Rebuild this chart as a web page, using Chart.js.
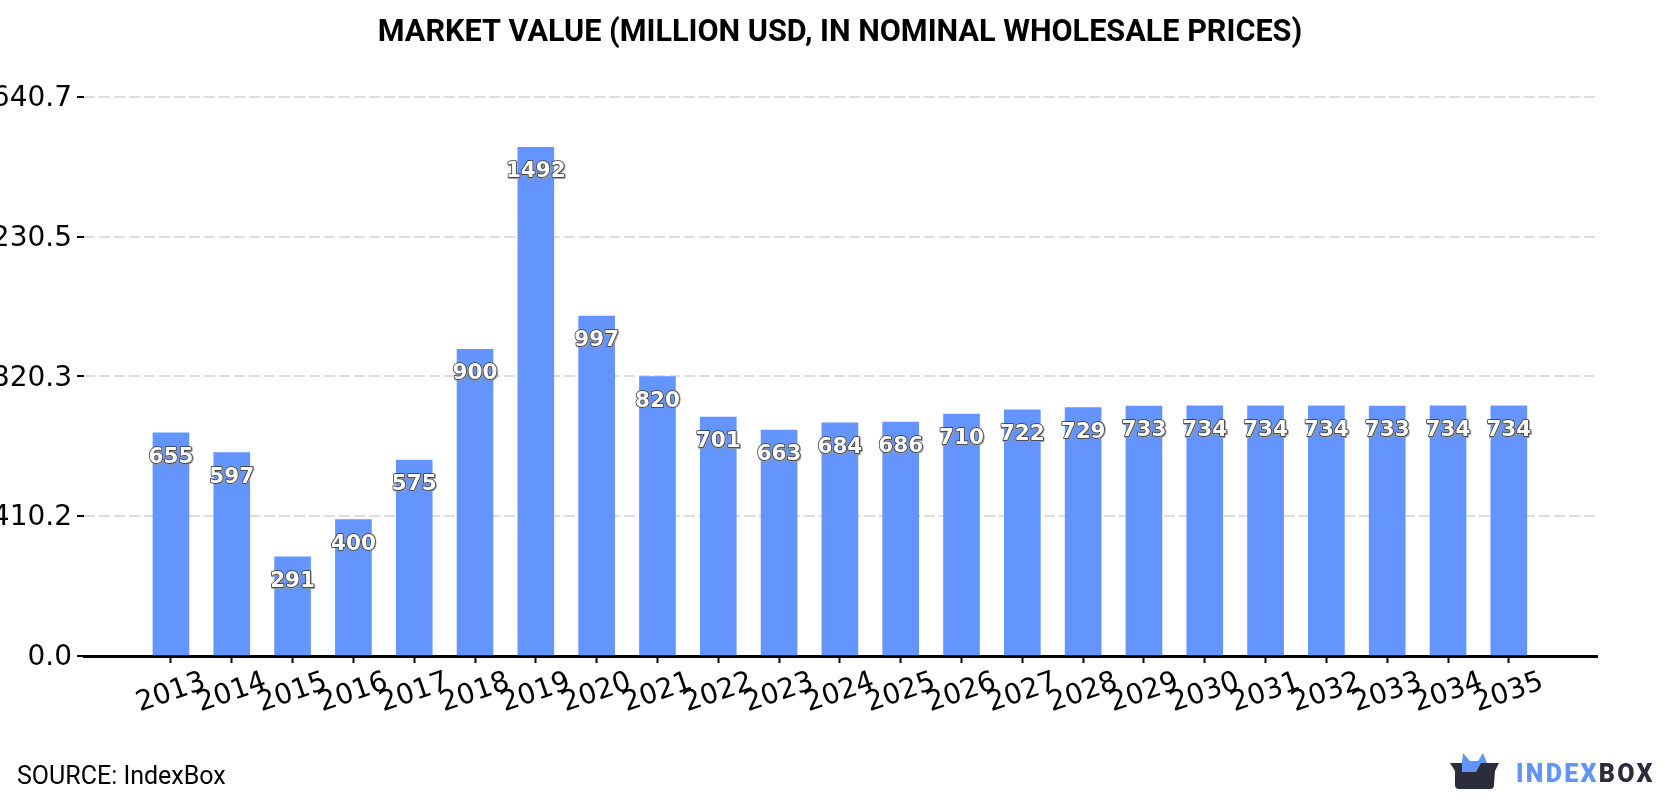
<!DOCTYPE html>
<html>
<head>
<meta charset="utf-8">
<title>Market value</title>
<script src="https://cdn.jsdelivr.net/npm/chart.js@4"></script>
<style>
  html, body { margin: 0; padding: 0; background: #fff; }
  #wrap { position: relative; width: 1680px; height: 800px; overflow: hidden; }
  #source { position: absolute; left: 17px; top: 761px; font: 25px Roboto, sans-serif; color: #000; white-space: nowrap; }
  #logo { position: absolute; left: 1448px; top: 750px; filter: blur(0.4px); }
  #brand { position: absolute; left: 1516px; top: 759px; font: 900 25px Roboto, sans-serif; letter-spacing: 2.3px; white-space: nowrap; color: #2b2d3a; filter: blur(0.4px); }
  #brand span { color: #6194fc; }
</style>
</head>
<body>
<div id="wrap">
  <canvas id="chart" width="1680" height="800"></canvas>
  <div id="source">SOURCE: IndexBox</div>
  <svg id="logo" width="52" height="42" viewBox="0 0 52 42">
    <path d="M14 13 L15 3 L22 11 L30 11 L35 3 L39 13 L33 22 L14 22 Z" fill="#6194fc"/>
    <path d="M2 13 L14 13 L14 22 L28 22 L33 13 L51 13 L47 21 L46 35 Q46 39 42 39 L11 39 Q7 39 7 35 L7 21 Z" fill="#2b2d3a"/>
  </svg>
  <div id="brand"><span>INDEX</span>BOX</div>
</div>
<script>
const years = [2013, 2014, 2015, 2016, 2017, 2018, 2019, 2020, 2021, 2022, 2023, 2024,
               2025, 2026, 2027, 2028, 2029, 2030, 2031, 2032, 2033, 2034, 2035];
const marketValue = [655, 597, 291, 400, 575, 900, 1492, 997, 820, 701, 663, 684,
                     686, 710, 722, 729, 733, 734, 734, 734, 733, 734, 734];
const valueTicks = [0, 410.2, 820.3, 1230.5, 1640.7];
const chartTitle = 'MARKET VALUE (MILLION USD, IN NOMINAL WHOLESALE PRICES)';

// The heading is centred on the whole canvas, not just the padded layout box.
const fullWidthTitle = {
  id: 'fullWidthTitle',
  afterLayout(chart) {
    chart.titleBlock.left = 0;
    chart.titleBlock.right = chart.width;
  }
};

// Year labels are centred under their ticks rather than right-aligned.
const centredYearLabels = {
  id: 'centredYearLabels',
  beforeDraw(chart) {
    const scale = chart.scales.x;
    scale.getLabelItems().forEach((item, i) => {
      item.textOffset = 0;
      item.options.textAlign = 'center';
      item.options.textBaseline = 'middle';
      item.options.translation = [scale.getPixelForTick(i), scale.top + 37];
    });
  }
};

// White value labels with a dark outline, placed just inside the top of each bar.
const barValueLabels = {
  id: 'barValueLabels',
  afterDatasetsDraw(chart) {
    const { ctx } = chart;
    ctx.save();
    ctx.font = 'bold 21.5px "DejaVu Sans"';
    ctx.textAlign = 'center';
    ctx.textBaseline = 'middle';
    ctx.lineJoin = 'round';
    chart.getDatasetMeta(0).data.forEach((bar, i) => {
      const text = String(marketValue[i]);
      const y = bar.y + 24.5;
      ctx.lineWidth = 2;
      ctx.strokeStyle = 'rgba(150,150,150,0.9)';
      ctx.strokeText(text, bar.x + 0.7, y + 0.7);
      ctx.lineWidth = 1.5;
      ctx.strokeStyle = '#333';
      ctx.strokeText(text, bar.x, y);
      ctx.fillStyle = '#fff';
      ctx.fillText(text, bar.x, y);
    });
    ctx.restore();
  }
};

new Chart(document.getElementById('chart'), {
  type: 'bar',
  data: {
    datasets: [{
      data: years.map((year, i) => ({ x: year, y: marketValue[i] })),
      backgroundColor: '#6495ff',
      barThickness: 36
    }]
  },
  plugins: [fullWidthTitle, centredYearLabels, barValueLabels],
  options: {
    responsive: false,
    animation: false,
    layout: { padding: { left: 0, right: 83, top: 0, bottom: 0 } },
    plugins: {
      legend: { display: false },
      tooltip: { enabled: false },
      title: {
        display: true,
        text: chartTitle,
        color: '#000',
        font: { family: 'Roboto', size: 30.6, weight: 'bold' },
        padding: { top: 15, bottom: 45 }
      }
    },
    scales: {
      x: {
        type: 'linear',
        offset: false,
        min: 2011.57,
        max: 2036.45,
        afterBuildTicks(scale) { scale.ticks = years.map(value => ({ value })); },
        afterFit(scale) { scale.height = 144; },
        grid: { offset: false, drawOnChartArea: false, drawTicks: true, tickLength: 7, tickColor: '#000', tickWidth: 2 },
        border: { display: true, color: '#000', width: 3 },
        ticks: {
          autoSkip: false,
          minRotation: 19,
          maxRotation: 19,
          color: '#000',
          font: { family: 'DejaVu Sans', size: 28 },
          callback: value => String(value)
        }
      },
      y: {
        min: 0,
        max: 1640.7,
        afterBuildTicks(scale) { scale.ticks = valueTicks.map(value => ({ value })); },
        afterFit(scale) { scale.width = 84; },
        grid: {
          color: '#dddddd',
          lineWidth: 2,
          tickColor: '#000',
          tickWidth: 2,
          tickLength: 7,
          tickBorderDash: []
        },
        border: { display: false, dash: [11, 4] },
        ticks: {
          color: '#000',
          padding: 5,
          labelOffset: 2,
          font: { family: 'DejaVu Sans', size: 28 },
          callback: value => value.toFixed(1)
        }
      }
    }
  }
});
</script>
</body>
</html>
